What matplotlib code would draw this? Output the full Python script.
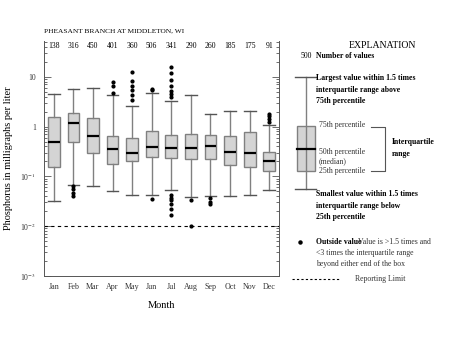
import matplotlib
matplotlib.use("Agg")
import matplotlib.pyplot as plt
from matplotlib.ticker import FixedLocator, FixedFormatter, LogLocator, NullFormatter

plt.rcParams['font.family'] = ['Liberation Serif', 'DejaVu Serif']
plt.rcParams['mathtext.fontset'] = 'stix'

# ---- data ----
months = ['Jan', 'Feb', 'Mar', 'Apr', 'May', 'Jun', 'Jul', 'Aug', 'Sep', 'Oct', 'Nov', 'Dec']
counts = [138, 316, 450, 401, 360, 506, 341, 290, 260, 185, 175, 91]
whis_hi = [4.5, 5.7, 6.0, 4.2, 2.6, 4.7, 3.3, 4.2, 1.8, 2.06, 2.06, 1.05]
q3 = [1.56, 1.88, 1.45, 0.66, 0.59, 0.80, 0.69, 0.72, 0.68, 0.64, 0.77, 0.31]
med = [0.48, 1.16, 0.65, 0.35, 0.30, 0.39, 0.375, 0.375, 0.40, 0.31, 0.29, 0.20]
q1 = [0.156, 0.485, 0.30, 0.18, 0.20, 0.24, 0.23, 0.226, 0.22, 0.166, 0.156, 0.13]
whis_lo = [0.032, 0.066, 0.064, 0.051, 0.043, 0.043, 0.053, 0.039, 0.041, 0.041, 0.042, 0.052]
outliers = [
    [],
    [0.064, 0.055, 0.047, 0.041],
    [],
    [7.9, 6.6, 4.8],
    [12.5, 8.1, 6.6, 5.3, 4.2, 3.4],
    [5.4, 5.7, 0.035],
    [16, 11.9, 8.7, 6.4, 5.1, 4.5, 4.0, 0.042, 0.037, 0.033, 0.0275, 0.0226, 0.0166],
    [0.034, 0.01],
    [0.037, 0.031, 0.0275],
    [],
    [],
    [1.82, 1.6, 1.43, 1.26],
]
reporting_limit = 0.01

fig = plt.figure(figsize=(4.74, 3.38), dpi=100)
W, H = 474, 338
ax = fig.add_axes([44 / W, 1 - 276 / H, 235 / W, 235 / H])

stats = []
for i in range(len(months)):
    stats.append(dict(med=med[i], q1=q1[i], q3=q3[i], whislo=whis_lo[i],
                      whishi=whis_hi[i], fliers=outliers[i]))
positions = list(range(1, len(months) + 1))
ax.bxp(stats, positions=positions, widths=0.6, patch_artist=True,
       boxprops=dict(facecolor='#d4d4d4', edgecolor='#808080', linewidth=1.0),
       medianprops=dict(color='black', linewidth=1.6),
       whiskerprops=dict(color='#808080', linewidth=1.0),
       capprops=dict(color='#555555', linewidth=1.0),
       capwidths=0.6,
       flierprops=dict(marker='o', markerfacecolor='black', markeredgecolor='black',
                       markersize=2.0, linestyle='none'))

ax.axhline(reporting_limit, color='black', linestyle=(0, (3, 3)), linewidth=0.8)

ax.set_yscale('log')
ax.set_ylim(1e-3, 52)
ax.set_xlim(0.5, 12.5)
ax.set_xticks(positions)
ax.set_xticklabels(months, fontsize=5.8, color='#333333')
ax.tick_params(axis='x', length=0, pad=5)

ax.yaxis.set_major_locator(FixedLocator([1e-3, 1e-2, 1e-1, 1, 10]))
ax.yaxis.set_major_formatter(FixedFormatter(['10$^{-3}$', '10$^{-2}$', '10$^{-1}$', '1', '10']))
ax.yaxis.set_minor_locator(LogLocator(base=10, subs=range(2, 10), numticks=20))
ax.yaxis.set_minor_formatter(NullFormatter())
ax.tick_params(axis='y', which='both', direction='in', left=True, right=True,
               labelsize=5.5, labelcolor='#333333', color='#555555', width=0.6)
ax.tick_params(axis='y', which='major', length=5, pad=6)
ax.tick_params(axis='y', which='minor', length=2.5)

for s in ['left', 'right', 'bottom']:
    ax.spines[s].set_color('#555555')
    ax.spines[s].set_linewidth(0.7)
ax.spines['top'].set_visible(False)

ax.set_ylabel('Phosphorus in milligraphs per liter', fontsize=7.5, labelpad=5)
ax.set_xlabel('Month', fontsize=7.5, labelpad=7)

for p, n in zip(positions, counts):
    ax.text(p, 0.977, str(n), transform=ax.get_xaxis_transform(),
            ha='center', va='center', fontsize=5.5)

fig.text(44 / W, 1 - 31 / H, 'PHEASANT BRANCH AT MIDDLETON, WI', fontsize=5.3,
         ha='left', va='center')

# ---- explanation, in pixel coordinates ----
ex = fig.add_axes([0, 0, 1, 1])
ex.set_xlim(0, W)
ex.set_ylim(H, 0)
ex.axis('off')
fs = 5.6
ex.text(382, 45, 'EXPLANATION', fontsize=7, ha='center', va='center')
ex.text(301, 56, '500', fontsize=fs, ha='left', va='center')
ex.text(316, 56, 'Number of values', fontsize=fs, ha='left', va='center', weight='bold')

ex.plot([306, 306], [77, 189], color='#808080', lw=1.0)
ex.plot([295, 316], [77, 77], color='#555555', lw=1.0)
ex.plot([295, 316], [189, 189], color='#555555', lw=1.0)
ex.add_patch(plt.Rectangle((297, 126), 18, 45, facecolor='#d4d4d4', edgecolor='#808080', lw=1.0))
ex.plot([297, 315], [149, 149], color='black', lw=1.6)

for i, line in enumerate(['Largest value within 1.5 times', 'interquartile range above', '75th percentile']):
    ex.text(316, 78 + i * 11.5, line, fontsize=fs, weight='bold', ha='left', va='center')
for i, line in enumerate(['Smallest value within 1.5 times', 'interquartile range below', '25th percentile']):
    ex.text(316, 194 + i * 11.5, line, fontsize=fs, weight='bold', ha='left', va='center')

ex.text(319, 125, '75th percentile', fontsize=fs, ha='left', va='center', color='#333333')
ex.text(319, 152, '50th percentile', fontsize=fs, ha='left', va='center', color='#333333')
ex.text(319, 161, '(median)', fontsize=fs, ha='left', va='center', color='#333333')
ex.text(319, 171, '25th percentile', fontsize=fs, ha='left', va='center', color='#333333')
ex.plot([371, 385, 385, 371], [127, 127, 171, 171], color='#555555', lw=0.8)
ex.text(392, 142, 'Interquartile', fontsize=fs, weight='bold', ha='left', va='center')
ex.text(392, 154, 'range', fontsize=fs, weight='bold', ha='left', va='center')

ex.plot([300], [242], marker='o', color='black', markersize=2.2)
ex.text(316, 242, 'Outside value', fontsize=fs, weight='bold', ha='left', va='center')
ex.text(358, 242, 'Value is >1.5 times and', fontsize=fs, ha='left', va='center', color='#333333')
ex.text(316, 253, '<3 times the interquartile range', fontsize=fs, ha='left', va='center', color='#333333')
ex.text(316, 264, 'beyond either end of the box', fontsize=fs, ha='left', va='center', color='#333333')

ex.plot([292, 340], [279, 279], color='black', linestyle=(0, (2, 2)), lw=0.8)
ex.text(355, 279, 'Reporting Limit', fontsize=fs, ha='left', va='center', color='#333333')

fig.savefig('out.png', dpi=100)
